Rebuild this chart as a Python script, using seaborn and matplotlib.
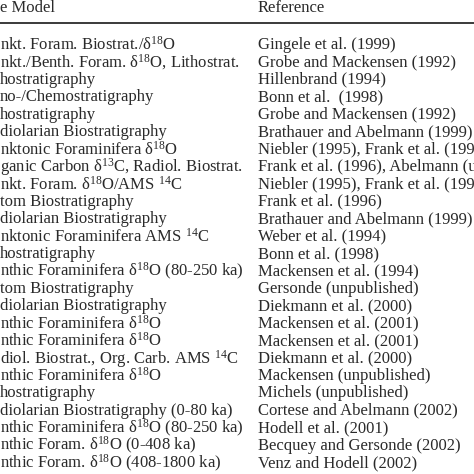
"""Age model table (cropped view) rendered as a figure."""
import matplotlib.pyplot as plt
import seaborn as sns

sns.set_theme(style="white")
plt.rcParams["font.family"] = ["Liberation Serif", "DejaVu Serif"]
plt.rcParams["mathtext.fontset"] = "custom"
plt.rcParams["mathtext.rm"] = "Liberation Serif"
plt.rcParams["mathtext.it"] = "Liberation Serif:italic"

D18 = r"$\mathrm{\delta^{18}O}$"
C14 = r"$\mathrm{^{14}C}$"
D13 = r"$\mathrm{\delta^{13}C}$"

header = ["e Model", "Reference"]
age_models = [
    f"nkt. Foram. Biostrat./{D18}",
    f"nkt./Benth. Foram. {D18}, Lithostrat.",
    "hostratigraphy",
    "no-/Chemostratigraphy",
    "hostratigraphy",
    "diolarian Biostratigraphy",
    f"nktonic Foraminifera {D18}",
    f"ganic Carbon {D13}, Radiol. Biostrat.",
    f"nkt. Foram. {D18}/AMS {C14}",
    "tom Biostratigraphy",
    "diolarian Biostratigraphy",
    f"nktonic Foraminifera AMS {C14}",
    "hostratigraphy",
    f"nthic Foraminifera {D18} (80-250 ka)",
    "tom Biostratigraphy",
    "diolarian Biostratigraphy",
    f"nthic Foraminifera {D18}",
    f"nthic Foraminifera {D18}",
    f"diol. Biostrat., Org. Carb. AMS {C14}",
    f"nthic Foraminifera {D18}",
    "hostratigraphy",
    "diolarian Biostratigraphy (0-80 ka)",
    f"nthic Foraminifera {D18} (80-250 ka)",
    f"nthic Foram. {D18} (0-408 ka)",
    f"nthic Foram. {D18} (408-1800 ka)",
]
references = [
    "Gingele et al. (1999)",
    "Grobe and Mackensen (1992)",
    "Hillenbrand (1994)",
    "Bonn et al.  (1998)",
    "Grobe and Mackensen (1992)",
    "Brathauer and Abelmann (1999)",
    "Niebler (1995), Frank et al. (1996)",
    "Frank et al. (1996), Abelmann (unpublished)",
    "Niebler (1995), Frank et al. (1996)",
    "Frank et al. (1996)",
    "Brathauer and Abelmann (1999)",
    "Weber et al. (1994)",
    "Bonn et al. (1998)",
    "Mackensen et al. (1994)",
    "Gersonde (unpublished)",
    "Diekmann et al. (2000)",
    "Mackensen et al. (2001)",
    "Mackensen et al. (2001)",
    "Diekmann et al. (2000)",
    "Mackensen (unpublished)",
    "Michels (unpublished)",
    "Cortese and Abelmann (2002)",
    "Hodell et al. (2001)",
    "Becquey and Gersonde (2002)",
    "Venz and Hodell (2002)",
]

fig = plt.figure(figsize=(4.74, 4.74), dpi=100)
ax = fig.add_axes([0, 0, 1, 1])
ax.set_xlim(0, 474)
ax.set_ylim(474, 0)
ax.axis("off")

col_x = [0, 258]
fs = 12
txt = "#2a2a2a"
ax.text(col_x[0], 8, header[0], fontsize=fs, va="center", color=txt)
ax.text(col_x[1], 8, header[1], fontsize=fs, va="center", color=txt)
ax.axhline(23, color="#3a3a3a", lw=1.4)

row0, step = 45, 17.42
for i, (m, r) in enumerate(zip(age_models, references)):
    y = row0 + i * step
    ax.text(col_x[0], y, m, fontsize=fs, va="center", color=txt, clip_on=True)
    ax.text(col_x[1], y, r, fontsize=fs, va="center", color=txt, clip_on=True)

fig.savefig("out.png", dpi=100)
